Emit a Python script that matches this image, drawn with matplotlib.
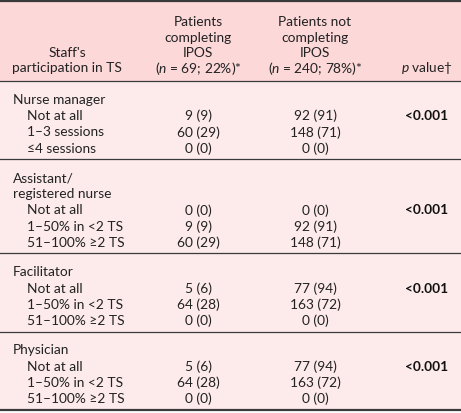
import matplotlib
matplotlib.use("Agg")
import matplotlib.pyplot as plt

plt.rcParams["font.family"] = ["Lato", "DejaVu Sans"]
plt.rcParams["mathtext.fontset"] = "custom"
plt.rcParams["mathtext.rm"] = "Lato"
plt.rcParams["mathtext.it"] = "Lato:italic"

# table content
groups = ["Nurse manager", "Assistant/\nregistered nurse", "Facilitator", "Physician"]
sub_labels = [
    ["Not at all", "1–3 sessions", "≤4 sessions"],
    ["Not at all", "1–50% in <2 TS", "51–100% ≥2 TS"],
    ["Not at all", "1–50% in <2 TS", "51–100% ≥2 TS"],
    ["Not at all", "1–50% in <2 TS", "51–100% ≥2 TS"],
]
completing = [
    ["9 (9)", "60 (29)", "0 (0)"],
    ["0 (0)", "9 (9)", "60 (29)"],
    ["5 (6)", "64 (28)", "0 (0)"],
    ["5 (6)", "64 (28)", "0 (0)"],
]
not_completing = [
    ["92 (91)", "148 (71)", "0 (0)"],
    ["0 (0)", "92 (91)", "148 (71)"],
    ["77 (94)", "163 (72)", "0 (0)"],
    ["77 (94)", "163 (72)", "0 (0)"],
]
p_values = ["<0.001", "<0.001", "<0.001", "<0.001"]

header_cols = [
    "Staff's\nparticipation in TS",
    "Patients\ncompleting\nIPOS\n($\\mathit{n}$ = 69; 22%)*",
    "Patients not\ncompleting\nIPOS\n($\\mathit{n}$ = 240; 78%)*",
    "$\\mathit{p}$ value†",
]

W, H = 461, 413
fig = plt.figure(figsize=(W / 100, H / 100), dpi=100)
ax = fig.add_axes([0, 0, 1, 1])
ax.set_xlim(0, W)
ax.set_ylim(H, 0)
ax.axis("off")

header_bg = "#fcd8d9"
body_bg = "#fdebec"
line_c = "#3a3a3a"
txt_c = "#222222"
fs = 9.9

header_h = 81
row_h = 16.2
pad_top = 19
pad_bot = 10.5

x_label, x_sub = 13, 27
x_cols = [198, 315, 427]

# header
ax.add_patch(plt.Rectangle((0, 0), W, header_h, color=header_bg, lw=0))
header_lines_y = [22, 37.5, 53, 68.5]
xs = [67] + x_cols
for i, txt in enumerate(header_cols):
    lines = txt.split("\n")
    for j, ln in enumerate(lines):
        y = header_lines_y[len(header_lines_y) - len(lines) + j]
        ax.text(xs[i], y, ln, ha="center", va="center", fontsize=fs, color=txt_c)

# body blocks
y0 = header_h
lines_y = [header_h]
blocks = []
for g in range(len(groups)):
    glines = groups[g].split("\n")
    n = len(glines) + len(sub_labels[g])
    h = pad_top + (n - 1) * row_h + pad_bot
    blocks.append((y0, glines))
    y0 += h
    lines_y.append(y0)

ax.add_patch(plt.Rectangle((0, header_h), W, y0 - header_h, color=body_bg, lw=0))

for g, (yt, glines) in enumerate(blocks):
    y = yt + pad_top
    for ln in glines:
        ax.text(x_label, y, ln, ha="left", va="center", fontsize=fs, color=txt_c)
        y += row_h
    for k, sl in enumerate(sub_labels[g]):
        ax.text(x_sub, y, sl, ha="left", va="center", fontsize=fs, color=txt_c)
        ax.text(x_cols[0], y, completing[g][k], ha="center", va="center", fontsize=fs, color=txt_c)
        ax.text(x_cols[1], y, not_completing[g][k], ha="center", va="center", fontsize=fs, color=txt_c)
        if k == 0:
            ax.text(x_cols[2], y, p_values[g], ha="center", va="center", fontsize=fs,
                    fontweight="bold", color="#111111")
        y += row_h

# rules
ax.plot([0, W], [0.8, 0.8], color=line_c, lw=1.6)
for i, ly in enumerate(lines_y):
    lw = 1.6 if i == len(lines_y) - 1 else 0.9
    ax.plot([0, W], [ly, ly], color=line_c, lw=lw)

fig.savefig("out.png", dpi=100)
